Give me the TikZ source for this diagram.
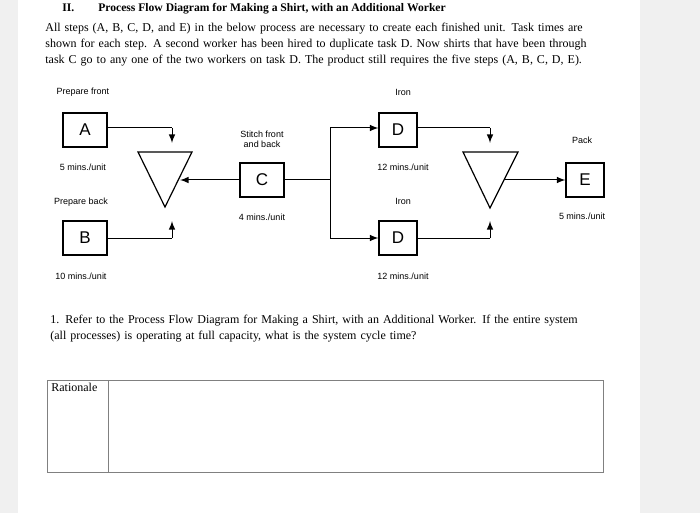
\documentclass[tikz,border=0pt]{standalone}
\usepackage{fontspec}
\setmainfont{Liberation Serif}
\setsansfont{Liberation Sans}
\begin{document}
\begin{tikzpicture}[x=0.5pt,y=-0.5pt,
  lbl/.style={font=\sffamily\fontsize{4.5}{5.2}\selectfont,inner sep=0pt,align=center},
  box/.style={draw,line width=0.6pt,minimum width=19pt,minimum height=17pt,font=\sffamily\fontsize{8.5}{9}\selectfont},
  arr/.style={-latex,line width=0.5pt},
  ln/.style={line width=0.5pt},
  txt/.style={font=\fontsize{6}{8}\selectfont,inner sep=0pt,anchor=north west,align=left}]
\useasboundingbox (0,0) rectangle (700,513);
\fill[gray!12] (0,0) rectangle (700,513);
\fill[white] (18,0) rectangle (640,513);
\node[txt,font=\bfseries\fontsize{5.8}{7}\selectfont] (title) at (62,3) {II.\hspace{12pt}Process Flow Diagram for Making a Shirt, with an Additional Worker};
\node[txt,text width=276pt] (para) at (45,23) {All steps (A, B, C, D, and E) in the below process are necessary to create each finished unit. Task times are shown for each step. A second worker has been hired to duplicate task D. Now shirts that have been through task C go to any one of the two workers on task D. The product still requires the five steps (A, B, C, D, E).};
% labels
\node[lbl] (pf) at (83,92) {Prepare front};
\node[lbl] (ir1) at (403,92) {Iron};
\node[lbl] (ta) at (83,167) {5 mins./unit};
\node[lbl] (pb) at (81,202) {Prepare back};
\node[lbl] (tb) at (81,276) {10 mins./unit};
\node[lbl] (sf) at (262,139) {Stitch front\\and back};
\node[lbl] (tc) at (262,217) {4 mins./unit};
\node[lbl] (td1) at (403,167) {12 mins./unit};
\node[lbl] (ir2) at (403,201) {Iron};
\node[lbl] (td2) at (403,276) {12 mins./unit};
\node[lbl] (pk) at (582,140) {Pack};
\node[lbl] (te) at (582,216) {5 mins./unit};
% boxes
\node[box,minimum width=22pt] (A) at (85,130) {A};
\node[box,minimum width=22pt] (B) at (85,238) {B};
\node[box,minimum width=22pt] (C) at (262,180) {C};
\node[box] (D1) at (398,130) {D};
\node[box] (D2) at (398,238) {D};
\node[box] (E) at (585,180) {E};
% triangles
\draw[line width=0.6pt] (138,152) -- (192,152) -- (165,207) -- cycle;
\draw[line width=0.6pt] (463,152) -- (518,152) -- (490,208) -- cycle;
\coordinate (t1r) at (180,180);
\coordinate (t2r) at (504,180);
% connectors
\coordinate (ka) at (172,128); \coordinate (kb) at (172,238);
\draw[ln] (A.east|-ka) -- (ka); \draw[arr] (ka) -- (172,143);
\draw[ln] (B.east|-kb) -- (kb); \draw[arr] (kb) -- (172,221);
\draw[arr] (C.west) -- (t1r);
\coordinate (s1) at (330,128); \coordinate (s2) at (330,238);
\draw[ln] (C.east) -- (330,180);
\draw[ln] (s1) -- (s2);
\draw[arr] (s1) -- (D1.west|-s1);
\draw[arr] (s2) -- (D2.west|-s2);
\coordinate (m1) at (490,128); \coordinate (m2) at (490,238);
\draw[ln] (D1.east|-m1) -- (m1); \draw[arr] (m1) -- (490,143);
\draw[ln] (D2.east|-m2) -- (m2); \draw[arr] (m2) -- (490,221);
\draw[arr] (t2r) -- (E.west);
% question
\node[txt,text width=266pt] (q) at (50,315) {1. Refer to the Process Flow Diagram for Making a Shirt, with an Additional Worker. If the entire system (all processes) is operating at full capacity, what is the system cycle time?};
\draw[line width=0.4pt,gray] (47,380) rectangle (603,472);
\draw[line width=0.4pt,gray] (108,380) -- (108,472);
\node[txt] (rat) at (51,383) {Rationale};
\end{tikzpicture}
\end{document}
